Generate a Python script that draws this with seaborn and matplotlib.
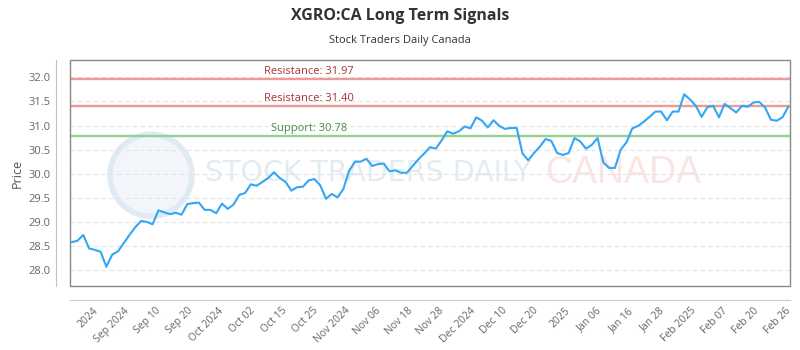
import numpy as np
import pandas as pd
import seaborn as sns
import matplotlib.pyplot as plt
from matplotlib.patches import Rectangle, Ellipse

# daily closes (one per trading day)
prices = [28.58, 28.61, 28.73, 28.45, 28.42, 28.38, 28.07, 28.32, 28.39, 28.56,
          28.73, 28.89, 29.02, 29.00, 28.95, 29.24, 29.20, 29.16, 29.19, 29.15,
          29.37, 29.39, 29.40, 29.25, 29.25, 29.18, 29.38, 29.27, 29.36, 29.56,
          29.60, 29.78, 29.75, 29.83, 29.91, 30.03, 29.91, 29.83, 29.65, 29.72,
          29.73, 29.86, 29.89, 29.76, 29.48, 29.58, 29.51, 29.68, 30.06, 30.25,
          30.25, 30.31, 30.16, 30.20, 30.21, 30.05, 30.07, 30.02, 30.02, 30.16,
          30.30, 30.42, 30.55, 30.52, 30.69, 30.88, 30.83, 30.88, 30.98, 30.94,
          31.17, 31.10, 30.96, 31.11, 30.99, 30.93, 30.95, 30.95, 30.42, 30.28,
          30.43, 30.56, 30.72, 30.68, 30.43, 30.39, 30.43, 30.74, 30.67, 30.52,
          30.60, 30.74, 30.23, 30.12, 30.12, 30.50, 30.65, 30.94, 30.99, 31.08,
          31.18, 31.29, 31.29, 31.11, 31.29, 31.29, 31.65, 31.54, 31.41, 31.18,
          31.38, 31.41, 31.17, 31.45, 31.36, 31.27, 31.41, 31.39, 31.48, 31.49,
          31.37, 31.12, 31.10, 31.17, 31.39]

tick_labels = ["2024", "Sep 2024", "Sep 10", "Sep 20", "Oct 2024", "Oct 02",
               "Oct 15", "Oct 25", "Nov 2024", "Nov 06", "Nov 18", "Nov 28",
               "Dec 2024", "Dec 10", "Dec 20", "2025", "Jan 06", "Jan 16",
               "Jan 28", "Feb 2025", "Feb 07", "Feb 20", "Feb 26"]

levels = [("Resistance", 31.97), ("Resistance", 31.40), ("Support", 30.78)]
level_colors = {"Resistance": ("#ee9898", "#a83434"),
                "Support": ("#98cf92", "#3f8f3f")}

df = pd.DataFrame({"day": np.arange(len(prices)), "price": prices})

sns.set_style("white")
plt.rcParams['font.family'] = ['Open Sans', 'DejaVu Sans']

fig = plt.figure(figsize=(8, 3.5), dpi=100)
ax = fig.add_axes([70 / 800, 64 / 350, 720 / 800, 226 / 350])

# faint watermark
ax.add_patch(Ellipse((0.1125, 0.49), 82 / 720, 82 / 226, transform=ax.transAxes,
                     facecolor="#f2f6fa", edgecolor="#e0eaf2", lw=4, zorder=0))
ax.text(0.1875, 0.5, "STOCK TRADERS DAILY", transform=ax.transAxes,
        fontsize=20.5, color="#e3ecf2", va="center", ha="left", zorder=0,
        family=['Liberation Sans Narrow', 'DejaVu Sans'])
ax.text(0.66, 0.5, "CANADA", transform=ax.transAxes,
        fontsize=27, color="#fbe4e4", va="center", ha="left", zorder=0,
        family=['Liberation Sans', 'DejaVu Sans'])

sns.lineplot(data=df, x="day", y="price", color="#33a6f5", linewidth=1.5, ax=ax, zorder=3)

for name, val in levels:
    line_c, text_c = level_colors[name]
    ax.axhline(val, color=line_c, lw=1.7, zorder=2)
    ax.text(41, val + 0.04, f"{name}: {val:.2f}", color=text_c, fontsize=8,
            ha="center", va="bottom", zorder=4)

ax.set_xlim(-0.3, len(prices) - 0.7)
ax.set_ylim(27.67, 32.36)

# plot border plus offset axis lines (before tick labels: set_position resets ticks)
for s in ["top", "right"]:
    ax.spines[s].set_visible(False)
ax.add_patch(Rectangle((0, 0), 1, 1, transform=ax.transAxes, fill=False,
                       edgecolor="#888888", lw=1, clip_on=False, zorder=5))
ax.spines["left"].set_position(("outward", 10))
ax.spines["left"].set_color("#c0c0c0")
ax.spines["bottom"].set_position(("outward", 10))
ax.spines["bottom"].set_color("#cccccc")

ax.yaxis.grid(True, color="#e3e3e3", linestyle=(0, (4, 3)), lw=0.8)
ax.xaxis.grid(False)

ax.tick_params(axis="x", length=0, pad=4, labelsize=7.5, labelcolor="#666666")
ax.tick_params(axis="y", length=0, pad=4, labelsize=8, labelcolor="#666666")

ax.set_yticks(np.arange(28, 32.01, 0.5))
ax.set_yticklabels([f"{v:.1f}" for v in np.arange(28, 32.01, 0.5)])

tick_pos = np.linspace(3.6, 123.4, len(tick_labels))
ax.set_xticks(tick_pos)
ax.set_xticklabels(tick_labels, rotation=45, ha="right", va="top",
                   rotation_mode="anchor")

ax.set_xlabel("")
ax.set_ylabel("Price", fontsize=9, color="#555555")
ax.yaxis.set_label_coords(-0.064, 0.5)

fig.text(0.5, 1 - 16 / 350, "XGRO:CA Long Term Signals", ha="center", va="center",
         fontsize=11.5, fontweight="bold", color="#333333")
fig.text(0.5, 1 - 40 / 350, "Stock Traders Daily Canada", ha="center", va="center",
         fontsize=8, color="#333333")

plt.savefig("out.png", dpi=100)
